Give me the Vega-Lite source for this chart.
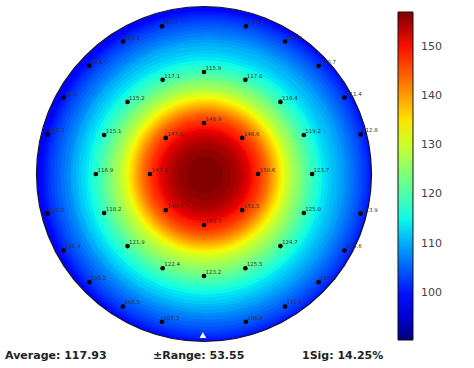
{
  "$schema": "https://vega.github.io/schema/vega-lite/v6.json",
  "width": 474,
  "height": 368,
  "padding": 0,
  "autosize": "none",
  "background": "white",
  "config": {"view": {"stroke": null}},
  "datasets": {
    "discs": [
      {"x": 0, "y": 0, "r": 150, "v": 99},
      {"x": 3, "y": -2, "r": 147.8, "v": 100},
      {"x": 3, "y": -2, "r": 145.5, "v": 101},
      {"x": 3, "y": -2, "r": 143.3, "v": 102},
      {"x": 3, "y": -2, "r": 140.6, "v": 103},
      {"x": 3, "y": -2, "r": 137.9, "v": 104},
      {"x": 3, "y": -2, "r": 134.8, "v": 105},
      {"x": 3, "y": -2, "r": 131.6, "v": 106},
      {"x": 3, "y": -2, "r": 128.5, "v": 107},
      {"x": 3, "y": -2, "r": 125.4, "v": 108},
      {"x": 3, "y": -2, "r": 122.7, "v": 109},
      {"x": 2, "y": -2, "r": 120.0, "v": 110},
      {"x": 2, "y": -2, "r": 116.9, "v": 111},
      {"x": 1, "y": -3, "r": 113.7, "v": 112},
      {"x": 1, "y": -3, "r": 110.6, "v": 113},
      {"x": 1, "y": -3, "r": 107.5, "v": 114},
      {"x": 1, "y": -3, "r": 104.8, "v": 115},
      {"x": 1, "y": -3, "r": 102.1, "v": 116},
      {"x": 1, "y": -3, "r": 99.8, "v": 117},
      {"x": 1, "y": -3, "r": 97.6, "v": 118},
      {"x": 1, "y": -3, "r": 95.4, "v": 119},
      {"x": 1, "y": -3, "r": 93.1, "v": 120},
      {"x": 1, "y": -3, "r": 91.3, "v": 121},
      {"x": 1, "y": -3, "r": 89.6, "v": 122},
      {"x": 1, "y": -3, "r": 87.8, "v": 123},
      {"x": 1, "y": -2, "r": 86.0, "v": 124},
      {"x": 1, "y": -2, "r": 84.2, "v": 125},
      {"x": 1, "y": -2, "r": 82.4, "v": 126},
      {"x": 1, "y": -2, "r": 80.1, "v": 127},
      {"x": 1, "y": -2, "r": 77.9, "v": 128},
      {"x": 1, "y": -2, "r": 76.6, "v": 129},
      {"x": 1, "y": -1, "r": 75.2, "v": 130},
      {"x": 1, "y": -1, "r": 73.4, "v": 131},
      {"x": 1, "y": -1, "r": 71.6, "v": 132},
      {"x": 1, "y": -1, "r": 70.3, "v": 133},
      {"x": 1, "y": -1, "r": 69.0, "v": 134},
      {"x": 1, "y": -1, "r": 67.6, "v": 135},
      {"x": 1, "y": -1, "r": 66.3, "v": 136},
      {"x": 1, "y": -1, "r": 64.9, "v": 137},
      {"x": 1, "y": -1, "r": 63.6, "v": 138},
      {"x": 1, "y": -1, "r": 62.2, "v": 139},
      {"x": 1, "y": -1, "r": 60.9, "v": 140},
      {"x": 1, "y": -1, "r": 59.6, "v": 141},
      {"x": 1, "y": -1, "r": 58.2, "v": 142},
      {"x": 1, "y": -1, "r": 56.9, "v": 143},
      {"x": 1, "y": -1, "r": 55.5, "v": 144},
      {"x": 1, "y": -1, "r": 53.7, "v": 145},
      {"x": 1, "y": -1, "r": 51.9, "v": 146},
      {"x": 1, "y": -1, "r": 50.1, "v": 147},
      {"x": 1, "y": -1, "r": 48.4, "v": 148},
      {"x": 1, "y": -1, "r": 45.7, "v": 149},
      {"x": 1, "y": -1, "r": 43.4, "v": 150},
      {"x": 1, "y": -1, "r": 41.2, "v": 151},
      {"x": 1, "y": -1, "r": 38.5, "v": 152},
      {"x": 1, "y": -1, "r": 35.4, "v": 153},
      {"x": 1, "y": -1, "r": 32.2, "v": 154},
      {"x": 1, "y": -1, "r": 28.7, "v": 155},
      {"x": 1, "y": -1, "r": 23.3, "v": 156},
      {"x": 1, "y": -1, "r": 16.1, "v": 157}
    ],
    "pts": [
      {"x": 47, "y": 0, "v": "150.6"},
      {"x": 33.23, "y": 33.23, "v": "148.6"},
      {"x": 0, "y": 47, "v": "148.9"},
      {"x": -33.23, "y": 33.23, "v": "147.0"},
      {"x": -47, "y": 0, "v": "147.2"},
      {"x": -33.23, "y": -33.23, "v": "148.7"},
      {"x": 0, "y": -47, "v": "149.7"},
      {"x": 33.23, "y": -33.23, "v": "151.5"},
      {"x": 94, "y": 0, "v": "123.7"},
      {"x": 86.84, "y": 35.97, "v": "119.2"},
      {"x": 66.47, "y": 66.47, "v": "116.4"},
      {"x": 35.97, "y": 86.84, "v": "117.0"},
      {"x": 0, "y": 94, "v": "115.9"},
      {"x": -35.97, "y": 86.84, "v": "117.1"},
      {"x": -66.47, "y": 66.47, "v": "115.2"},
      {"x": -86.84, "y": 35.97, "v": "115.1"},
      {"x": -94, "y": 0, "v": "116.9"},
      {"x": -86.84, "y": -35.97, "v": "118.2"},
      {"x": -66.47, "y": -66.47, "v": "121.9"},
      {"x": -35.97, "y": -86.84, "v": "122.4"},
      {"x": 0, "y": -94, "v": "123.2"},
      {"x": 35.97, "y": -86.84, "v": "125.5"},
      {"x": 66.47, "y": -66.47, "v": "124.7"},
      {"x": 86.84, "y": -35.97, "v": "125.0"},
      {"x": 136.19, "y": 36.49, "v": "112.8"},
      {"x": 122.11, "y": 70.5, "v": "111.4"},
      {"x": 99.7, "y": 99.7, "v": "110.7"},
      {"x": 70.5, "y": 122.11, "v": "109.6"},
      {"x": 36.49, "y": 136.19, "v": "108.2"},
      {"x": -36.49, "y": 136.19, "v": "107.7"},
      {"x": -70.5, "y": 122.11, "v": "101.1"},
      {"x": -99.7, "y": 99.7, "v": "99.6"},
      {"x": -122.11, "y": 70.5, "v": "98.1"},
      {"x": -136.19, "y": 36.49, "v": "102.7"},
      {"x": -136.19, "y": -36.49, "v": "102.5"},
      {"x": -122.11, "y": -70.5, "v": "102.4"},
      {"x": -99.7, "y": -99.7, "v": "105.2"},
      {"x": -70.5, "y": -122.11, "v": "105.5"},
      {"x": -36.49, "y": -136.19, "v": "107.3"},
      {"x": 36.49, "y": -136.19, "v": "108.8"},
      {"x": 70.5, "y": -122.11, "v": "110.6"},
      {"x": 99.7, "y": -99.7, "v": "113.2"},
      {"x": 122.11, "y": -70.5, "v": "114.6"},
      {"x": 136.19, "y": -36.49, "v": "113.9"}
    ],
    "stats": [
      {"x": -173.0, "y": -170.5, "t": "Average: 117.93"},
      {"x": -44.3, "y": -170.5, "t": "±Range: 53.55"},
      {"x": 85.2, "y": -170.5, "t": "1Sig: 14.25%"}
    ]
  },
  "encoding": {
    "x": {"field": "x", "type": "quantitative", "axis": null, "scale": {"domain": [-177.39, 234.78], "nice": false, "zero": false}},
    "y": {"field": "y", "type": "quantitative", "axis": null, "scale": {"domain": [-178.8, 160.37], "nice": false, "zero": false}}
  },
  "layer": [
    {
      "data": {"name": "discs"},
      "mark": {"type": "arc", "theta": 0, "theta2": 6.2832, "strokeWidth": 0},
      "encoding": {
        "radius": {"field": "r", "type": "quantitative", "stack": null, "scale": {"type": "linear", "domain": [0, 150], "range": [0, 167.5], "zero": true}},
        "order": {"field": "r", "sort": "descending"},
        "color": {
          "field": "v", "type": "quantitative",
          "scale": {
            "domain": [90.4, 97.74, 98.74, 113.75, 115.41, 133.09, 134.42, 149.76, 151.1, 157.1],
            "range": ["#000080", "#0000ff", "#0000ff", "#00e5f7", "#14ffe2", "#eeff08", "#ffec00", "#ff1300", "#e80000", "#800000"],
            "interpolate": "rgb"
          },
          "legend": {
            "orient": "none", "legendX": 398, "legendY": 12, "direction": "vertical",
            "gradientLength": 328, "gradientThickness": 15, "title": null, "padding": 0,
            "values": [100, 110, 120, 130, 140, 150],
            "labelFontSize": 11, "labelFont": "DejaVu Sans", "labelColor": "#444", "labelOffset": 8,
            "gradientStrokeColor": "#111", "gradientStrokeWidth": 1
          }
        }
      }
    },
    {
      "data": {"values": [{"x": 0, "y": 0, "r": 150, "r2": 162}]},
      "mark": {"type": "arc", "theta": 0, "theta2": 6.2832, "fill": "white", "strokeWidth": 0},
      "encoding": {
        "radius": {"field": "r", "type": "quantitative", "stack": null},
        "radius2": {"field": "r2"}
      }
    },
    {
      "data": {"values": [{"x": 0, "y": 0, "r": 150}]},
      "mark": {"type": "arc", "theta": 0, "theta2": 6.2832, "filled": false, "fill": null, "stroke": "#111122", "strokeWidth": 1.2},
      "encoding": {
        "radius": {"field": "r", "type": "quantitative", "stack": null}
      }
    },
    {
      "data": {"values": [{"x": -1, "y": -148.5}]},
      "mark": {"type": "point", "shape": "triangle-up", "size": 45, "filled": true, "fill": "white", "opacity": 1, "strokeWidth": 0}
    },
    {
      "data": {"name": "pts"},
      "mark": {"type": "circle", "size": 22, "color": "#000", "opacity": 1}
    },
    {
      "data": {"name": "pts"},
      "mark": {"type": "text", "align": "left", "baseline": "bottom", "dx": 1.5, "dy": -1, "fontSize": 5.5, "font": "DejaVu Sans", "color": "#333"},
      "encoding": {"text": {"field": "v", "type": "nominal"}}
    },
    {
      "data": {"name": "stats"},
      "mark": {"type": "text", "align": "left", "baseline": "alphabetic", "fontSize": 11, "fontWeight": "bold", "font": "DejaVu Sans", "color": "#222"},
      "encoding": {"text": {"field": "t", "type": "nominal"}}
    }
  ]
}
